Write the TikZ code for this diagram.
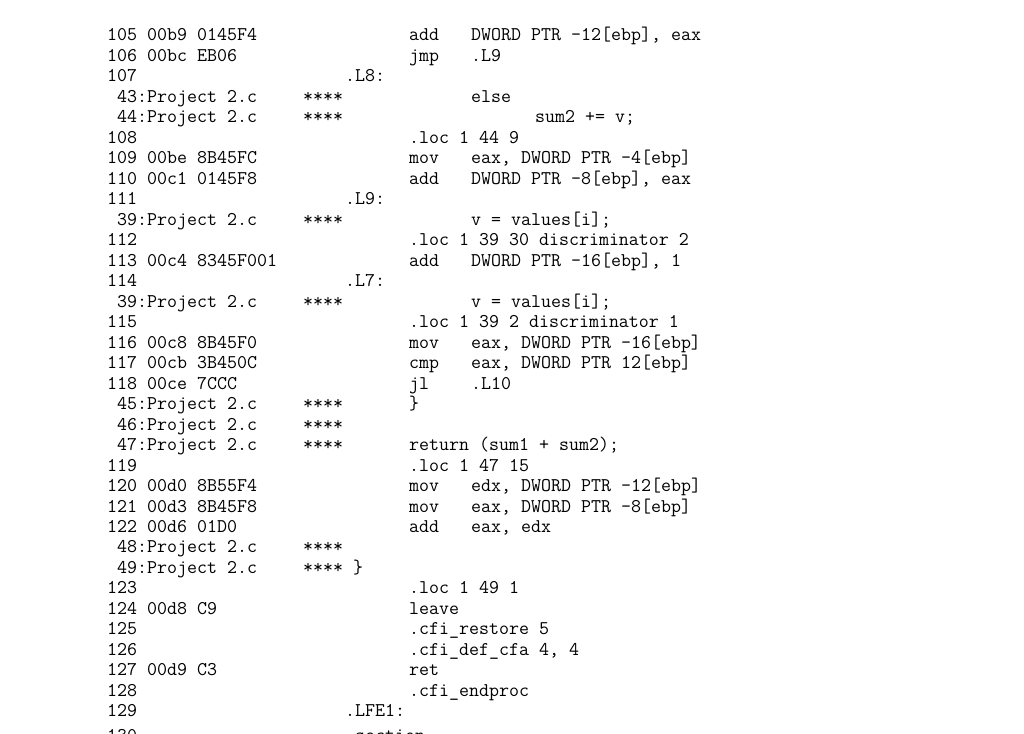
\documentclass[tikz,border=0pt]{standalone}
\begin{document}
\begin{tikzpicture}[x=1pt,y=1pt,t/.style={font=\ttfamily\fontsize{19.4}{20}\selectfont,inner sep=0pt,anchor=base west}]
\useasboundingbox (0,0) rectangle (1024,733);
\clip (0,0) rectangle (1024,733);
\fill[white] (0,0) rectangle (1024,733);
\newcommand\R[3]{\node[t] (r#1c#2) at (#2,{733-41-#1*20.48}) {#3};}
\R{0}{107}{105 00b9 0145F4}\R{0}{409}{add}\R{0}{471}{DWORD PTR -12[ebp], eax}
\R{1}{107}{106 00bc EB06}\R{1}{409}{jmp}\R{1}{471}{.L9}
\R{2}{107}{107}\R{2}{345}{.L8:}
\R{3}{117}{43:Project 2.c}\R{3}{303}{****}\R{3}{471}{else}
\R{4}{117}{44:Project 2.c}\R{4}{303}{****}\R{4}{535}{sum2 += v;}
\R{5}{107}{108}\R{5}{409}{.loc 1 44 9}
\R{6}{107}{109 00be 8B45FC}\R{6}{409}{mov}\R{6}{471}{eax, DWORD PTR -4[ebp]}
\R{7}{107}{110 00c1 0145F8}\R{7}{409}{add}\R{7}{471}{DWORD PTR -8[ebp], eax}
\R{8}{107}{111}\R{8}{345}{.L9:}
\R{9}{117}{39:Project 2.c}\R{9}{303}{****}\R{9}{471}{v = values[i];}
\R{10}{107}{112}\R{10}{409}{.loc 1 39 30 discriminator 2}
\R{11}{107}{113 00c4 8345F001}\R{11}{409}{add}\R{11}{471}{DWORD PTR -16[ebp], 1}
\R{12}{107}{114}\R{12}{345}{.L7:}
\R{13}{117}{39:Project 2.c}\R{13}{303}{****}\R{13}{471}{v = values[i];}
\R{14}{107}{115}\R{14}{409}{.loc 1 39 2 discriminator 1}
\R{15}{107}{116 00c8 8B45F0}\R{15}{409}{mov}\R{15}{471}{eax, DWORD PTR -16[ebp]}
\R{16}{107}{117 00cb 3B450C}\R{16}{409}{cmp}\R{16}{471}{eax, DWORD PTR 12[ebp]}
\R{17}{107}{118 00ce 7CCC}\R{17}{409}{jl}\R{17}{471}{.L10}
\R{18}{117}{45:Project 2.c}\R{18}{303}{****}\R{18}{409}{\}}
\R{19}{117}{46:Project 2.c}\R{19}{303}{****}
\R{20}{117}{47:Project 2.c}\R{20}{303}{****}\R{20}{409}{return (sum1 + sum2);}
\R{21}{107}{119}\R{21}{409}{.loc 1 47 15}
\R{22}{107}{120 00d0 8B55F4}\R{22}{409}{mov}\R{22}{471}{edx, DWORD PTR -12[ebp]}
\R{23}{107}{121 00d3 8B45F8}\R{23}{409}{mov}\R{23}{471}{eax, DWORD PTR -8[ebp]}
\R{24}{107}{122 00d6 01D0}\R{24}{409}{add}\R{24}{471}{eax, edx}
\R{25}{117}{48:Project 2.c}\R{25}{303}{****}
\R{26}{117}{49:Project 2.c}\R{26}{303}{**** \}}
\R{27}{107}{123}\R{27}{409}{.loc 1 49 1}
\R{28}{107}{124 00d8 C9}\R{28}{409}{leave}
\R{29}{107}{125}\R{29}{409}{.cfi\_restore 5}
\R{30}{107}{126}\R{30}{409}{.cfi\_def\_cfa 4, 4}
\R{31}{107}{127 00d9 C3}\R{31}{409}{ret}
\R{32}{107}{128}\R{32}{409}{.cfi\_endproc}
\R{33}{107}{129}\R{33}{345}{.LFE1:}
\R{34.2}{107}{130}\R{34.2}{345}{.section}
\end{tikzpicture}
\end{document}
